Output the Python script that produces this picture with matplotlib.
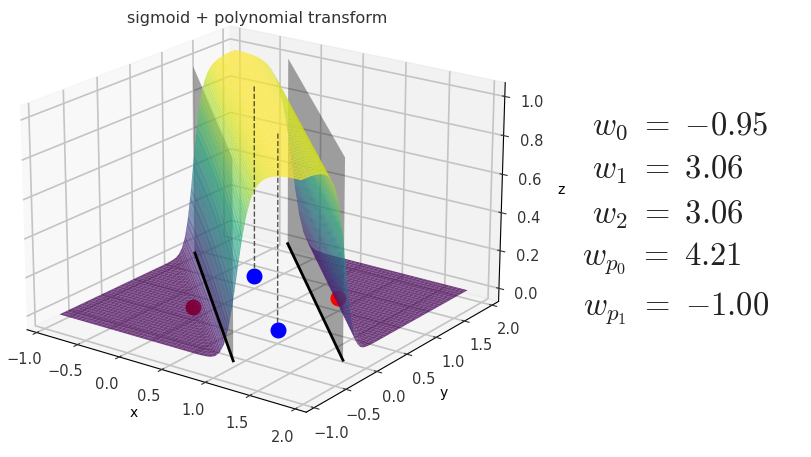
import numpy as np
import matplotlib
matplotlib.use('Agg')
import matplotlib.pyplot as plt

# superficie: altura segun x+y (paso 0.05, desde x+y = -0.10 hasta 2.10)
ridge_z = [0.001, 0.003, 0.007, 0.018, 0.042, 0.090, 0.177, 0.307, 0.466, 0.621, 0.746,
           0.835, 0.892, 0.928, 0.950, 0.964, 0.973, 0.979, 0.983, 0.986, 0.987, 0.988, 0.988,
           0.988, 0.987, 0.986, 0.983, 0.979, 0.973, 0.964, 0.950, 0.928, 0.892,
           0.835, 0.746, 0.621, 0.466, 0.307, 0.177, 0.090, 0.042, 0.018, 0.007, 0.003, 0.001]
floor_z = [0.0] * 34
profile = floor_z + ridge_z + floor_z

x_vals = np.linspace(-0.9, 1.9, 57)
y_vals = np.linspace(-0.9, 1.9, 57)

# puntos XOR
red_x = [0, 1]
red_y = [0, 1]
blue_x = [1, 0]
blue_y = [0, 1]
blue_top = [1, 1]

# rectas de decision en el plano
line1_x = [1.10, -0.85]
line1_y = [-0.83, 1.15]
line2_x = [1.90, -0.25]
line2_y = [-0.23, 1.91]
wall_top = 1.0

labels = [r'$w_0\ =\ {-}0.95$', r'$w_1\ =\ 3.06$', r'$w_2\ =\ 3.06$',
          r'$w_{p_0}\ =\ 4.21$', r'$w_{p_1}\ =\ {-}1.00$']
label_px = [(592, 126), (592, 170), (592, 214), (582, 258), (583, 308)]

plt.rcParams['mathtext.fontset'] = 'cm'
plt.rcParams['grid.linewidth'] = 1.2
plt.rcParams['grid.color'] = '#c4c4c4'

fig = plt.figure(figsize=(8.11, 4.57), dpi=100)
ax = fig.add_axes([-0.051, -0.037, 0.74, 1.14], projection='3d')
ax.computed_zorder = False
ax.view_init(elev=20, azim=-54)
ax.set_proj_type('persp', focal_length=1.0)
ax.set_box_aspect((4, 4, 2.75), zoom=1.003)

X, Y = np.meshgrid(x_vals, y_vals)
Z = np.array([[profile[i + j] for j in range(len(x_vals))] for i in range(len(y_vals))])

# paredes grises
for lx, ly in [(line1_x, line1_y), (line2_x, line2_y)]:
    wx = np.array([lx, lx])
    wy = np.array([ly, ly])
    wz = np.array([[0, 0], [wall_top, wall_top]])
    ax.plot_surface(wx, wy, wz, color='k', alpha=0.35, linewidth=0, shade=False, zorder=1)

ax.scatter(red_x, red_y, [0, 0], c='red', s=110, alpha=1, depthshade=False, zorder=2)

ax.plot_surface(X, Y, Z, cmap='viridis', alpha=0.75, rstride=1, cstride=1, linewidth=0, zorder=3)

for lx, ly in [(line1_x, line1_y), (line2_x, line2_y)]:
    ax.plot(lx, ly, [0, 0], color='k', lw=2, zorder=4)

for bx, by, bz in zip(blue_x, blue_y, blue_top):
    ax.plot([bx, bx], [by, by], [0, bz], color='k', lw=1, ls='--', alpha=0.65, zorder=4)
ax.scatter(blue_x, blue_y, [0, 0], c='blue', s=110, alpha=1, depthshade=False, zorder=5)

ax.set_xlim(-1.12, 2.12)
ax.set_ylim(-1.12, 2.12)
ax.set_zlim(-0.07, 1.07)
ax.set_xticks([-1.0, -0.5, 0.0, 0.5, 1.0, 1.5, 2.0])
ax.set_yticks([-1.0, -0.5, 0.0, 0.5, 1.0, 1.5, 2.0])
ax.set_zticks([0.0, 0.2, 0.4, 0.6, 0.8, 1.0])
ax.set_xlabel('x')
ax.set_ylabel('y')
ax.set_zlabel('z')
ax.tick_params(labelsize=10.5, colors='#333333')

fig.text(257 / 811, 1 - 19 / 457, 'sigmoid + polynomial transform', ha='center', va='center',
         fontsize=11.6, color='#333333')
for text, (px, py) in zip(labels, label_px):
    fig.text(px / 811, 1 - py / 457, text, fontsize=23.5, va='center', ha='left', color='#222222')

fig.savefig('out.png', dpi=100)
